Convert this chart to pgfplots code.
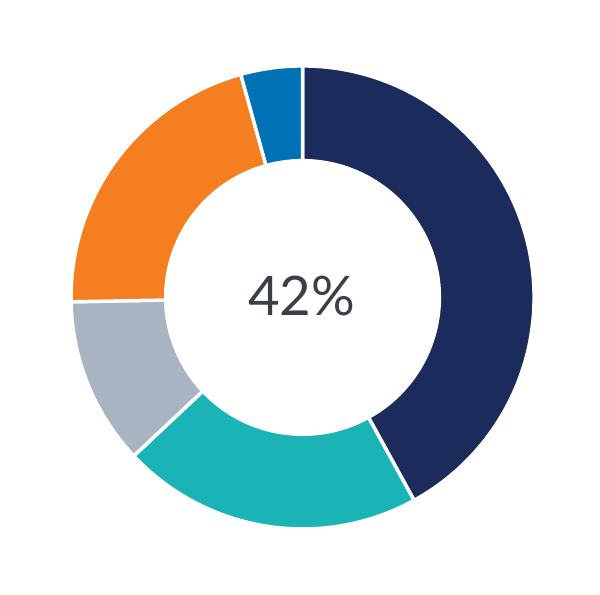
\documentclass[border=0pt]{standalone}
\usepackage{fontspec}
\setmainfont{Lato}
\usepackage{pgfplots}
\usepackage{pgfplotstable}
\pgfplotsset{compat=1.18}

\definecolor{seg0}{HTML}{1B2B5B}
\definecolor{seg1}{HTML}{1AB4B7}
\definecolor{seg2}{HTML}{A9B4C2}
\definecolor{seg3}{HTML}{F47E20}
\definecolor{seg4}{HTML}{0071B4}
\definecolor{labelgray}{HTML}{3B3F47}

% share of each segment, clockwise from the top
\pgfplotstableread{
value
42
21
11.7
21
4.3
}\donutdata

\begin{document}
% start and end angles of each segment
\def\cum{0}
\pgfplotsforeachungrouped \i in {0,...,4}{%
  \pgfplotstablegetelem{\i}{value}\of\donutdata
  \pgfmathsetmacro\startang{90-3.6*\cum}%
  \pgfmathsetmacro\cum{\cum+\pgfplotsretval}%
  \pgfmathsetmacro\endang{90-3.6*\cum}%
  \expandafter\xdef\csname sa\i\endcsname{\startang}%
  \expandafter\xdef\csname ea\i\endcsname{\endang}%
}
\begin{tikzpicture}
\begin{axis}[
  hide axis,
  scale only axis,
  clip=false,
  width=600pt, height=600pt,
  xmin=-300, xmax=300, ymin=-300, ymax=300,
]
% keep the whole square as the page
\path (axis cs:-300,-300) rectangle (axis cs:300,300);
\pgfplotsinvokeforeach{0,...,4}{
  \fill[seg#1, draw=white, line width=3.5pt, line join=miter]
    (axis cs:{233.5*cos(\csname sa#1\endcsname)},{233.5*sin(\csname sa#1\endcsname)})
    arc[start angle=\csname sa#1\endcsname, end angle=\csname ea#1\endcsname, radius=233.5pt]
    -- (axis cs:{138*cos(\csname ea#1\endcsname)},{138*sin(\csname ea#1\endcsname)})
    arc[start angle=\csname ea#1\endcsname, end angle=\csname sa#1\endcsname, radius=138pt]
    -- cycle;
}
\node[anchor=base, text=labelgray, font=\fontsize{55}{60}\selectfont, inner sep=0pt]
  at (axis cs:-1,-18) {42\%};
\end{axis}
\end{tikzpicture}
\end{document}
